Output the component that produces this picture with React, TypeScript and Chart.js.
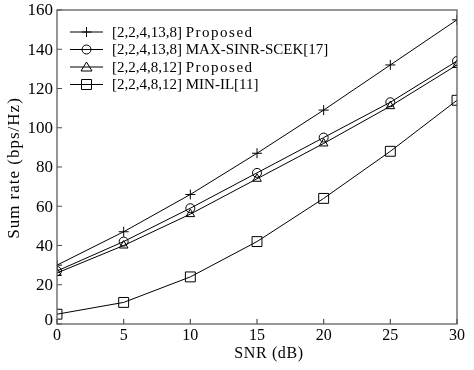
import React, { useEffect, useRef } from "react";
import { Chart, registerables } from "chart.js";

Chart.register(...registerables);

const snr = [0, 5, 10, 15, 20, 25, 30];
const proposed13 = [30, 47, 66, 87, 109, 132, 155];
const maxSinr = [27, 42, 59, 77, 95, 113, 134];
const proposed8 = [26, 40, 56, 74, 92, 111, 132];
const minIL = [5, 11, 24, 42, 64, 88, 114];
const labels = [
  "[2,2,4,13,8] Proposed",
  "[2,2,4,13,8] MAX-SINR-SCEK[17]",
  "[2,2,4,8,12] Proposed",
  "[2,2,4,8,12] MIN-IL[11]",
];
const yTicks = [0, 20, 40, 60, 80, 100, 120, 140, 160];
const xTicks = [0, 5, 10, 15, 20, 25, 30];
const xTitle = "SNR (dB)";
const yTitle = "Sum rate (bps/Hz)";

const FONT = "'Liberation Serif', 'DejaVu Serif', serif";
const AXIS = "#505050";

function drawMarker(ctx: CanvasRenderingContext2D, style: string, x: number, y: number) {
  ctx.beginPath();
  ctx.strokeStyle = "#000";
  ctx.lineWidth = 1;
  if (style === "cross") {
    ctx.moveTo(x - 5, y);
    ctx.lineTo(x + 5, y);
    ctx.moveTo(x, y - 5);
    ctx.lineTo(x, y + 5);
  } else if (style === "circle") {
    ctx.arc(x, y, 4.5, 0, Math.PI * 2);
  } else if (style === "triangle") {
    ctx.moveTo(x, y - 5);
    ctx.lineTo(x + 5.5, y + 4);
    ctx.lineTo(x - 5.5, y + 4);
    ctx.closePath();
  } else {
    ctx.rect(x - 5, y - 5, 10, 10);
  }
  ctx.stroke();
}

const frame = {
  id: "frame",
  afterDatasetsDraw(chart: any) {
    const { ctx, chartArea: a, scales } = chart;
    ctx.save();
    ctx.strokeStyle = AXIS;
    ctx.lineWidth = 1.2;
    ctx.strokeRect(a.left, a.top, a.right - a.left, a.bottom - a.top);
    ctx.beginPath();
    for (const v of xTicks) {
      const x = scales.x.getPixelForValue(v);
      ctx.moveTo(x, a.bottom);
      ctx.lineTo(x, a.bottom - 5);
    }
    for (const v of yTicks) {
      const y = scales.y.getPixelForValue(v);
      ctx.moveTo(a.left, y);
      ctx.lineTo(a.left + 5, y);
    }
    ctx.stroke();

    ctx.fillStyle = "#000";
    ctx.font = `16px ${FONT}`;
    ctx.textBaseline = "middle";
    ctx.textAlign = "center";
    for (const v of xTicks) {
      ctx.fillText(String(v), scales.x.getPixelForValue(v), a.bottom + 12);
    }
    ctx.font = `17px ${FONT}`;
    ctx.textAlign = "right";
    for (const v of yTicks) {
      const y = scales.y.getPixelForValue(v);
      if (v === 0) ctx.fillText("0", a.left - 4, y - 3);
      else ctx.fillText(String(v), a.left - 4, y + 1);
    }
    ctx.font = `16px ${FONT}`;
    ctx.textAlign = "center";
    (ctx as any).letterSpacing = "0.6px";
    ctx.fillText(xTitle, 269, a.bottom + 30);
    ctx.save();
    ctx.translate(15, 168);
    ctx.rotate(-Math.PI / 2);
    ctx.font = `17px ${FONT}`;
    (ctx as any).letterSpacing = "1px";
    ctx.fillText(yTitle, 0, 0);
    ctx.restore();
    (ctx as any).letterSpacing = "0px";
    ctx.restore();
  },
  afterDraw(chart: any) {
    const { ctx, chartArea: a } = chart;
    const styles = ["cross", "circle", "triangle", "rect"];
    const spacing = ["1.5px", "0px", "1.5px", "0px"];
    ctx.save();
    labels.forEach((lab, i) => {
      const y = a.top + 22 + i * 17.5;
      const x0 = a.left + 13;
      const x1 = a.left + 46;
      ctx.strokeStyle = "#000";
      ctx.lineWidth = 1;
      ctx.beginPath();
      ctx.moveTo(x0, y);
      ctx.lineTo(x1, y);
      ctx.stroke();
      drawMarker(ctx, styles[i], (x0 + x1) / 2, y);
      ctx.fillStyle = "#000";
      ctx.font = `15px ${FONT}`;
      ctx.textBaseline = "middle";
      ctx.textAlign = "left";
      const parts = lab.split(" ");
      (ctx as any).letterSpacing = "0px";
      ctx.fillText(parts[0], a.left + 55, y + 1);
      const w = ctx.measureText(parts[0] + " ").width;
      (ctx as any).letterSpacing = spacing[i];
      ctx.fillText(parts.slice(1).join(" "), a.left + 55 + w, y + 1);
      (ctx as any).letterSpacing = "0px";
    });
    ctx.restore();
  },
};

export default function App() {
  const ref = useRef<HTMLCanvasElement>(null);
  useEffect(() => {
    document.body.style.margin = "0";
    const mk = (data: number[], style: string, r: number) => ({
      data: snr.map((x, i) => ({ x, y: data[i] })),
      borderColor: "#000",
      borderWidth: 1,
      pointStyle: style,
      pointRadius: r,
      pointBorderColor: "#000",
      pointBorderWidth: 1,
      pointBackgroundColor: "rgba(0,0,0,0)",
      tension: 0,
      fill: false,
    });
    const chart = new Chart(ref.current!, {
      type: "line",
      data: {
        datasets: [
          mk(proposed13, "cross", 5),
          mk(maxSinr, "circle", 4.5),
          mk(proposed8, "triangle", 5),
          mk(minIL, "rect", 7),
        ],
      },
      options: {
        animation: false,
        responsive: false,
        layout: { padding: { top: 10, right: 17, left: 0, bottom: 0 } },
        plugins: { legend: { display: false }, tooltip: { enabled: false } },
        scales: {
          x: {
            type: "linear",
            min: 0,
            max: 30,
            afterBuildTicks: (s: any) => { s.ticks = xTicks.map((v) => ({ value: v })); },
            afterFit: (s: any) => { s.height = 46; },
            grid: { display: false, drawTicks: false },
            border: { display: false },
            ticks: { display: false },
          },
          y: {
            min: 0,
            max: 160,
            afterBuildTicks: (s: any) => { s.ticks = yTicks.map((v) => ({ value: v })); },
            afterFit: (s: any) => { s.width = 57; },
            grid: { display: false, drawTicks: false },
            border: { display: false },
            ticks: { display: false },
          },
        },
      },
      plugins: [frame],
    } as any);
    return () => chart.destroy();
  }, []);
  return <canvas ref={ref} width={474} height={370} style={{ display: "block" }} />;
}
